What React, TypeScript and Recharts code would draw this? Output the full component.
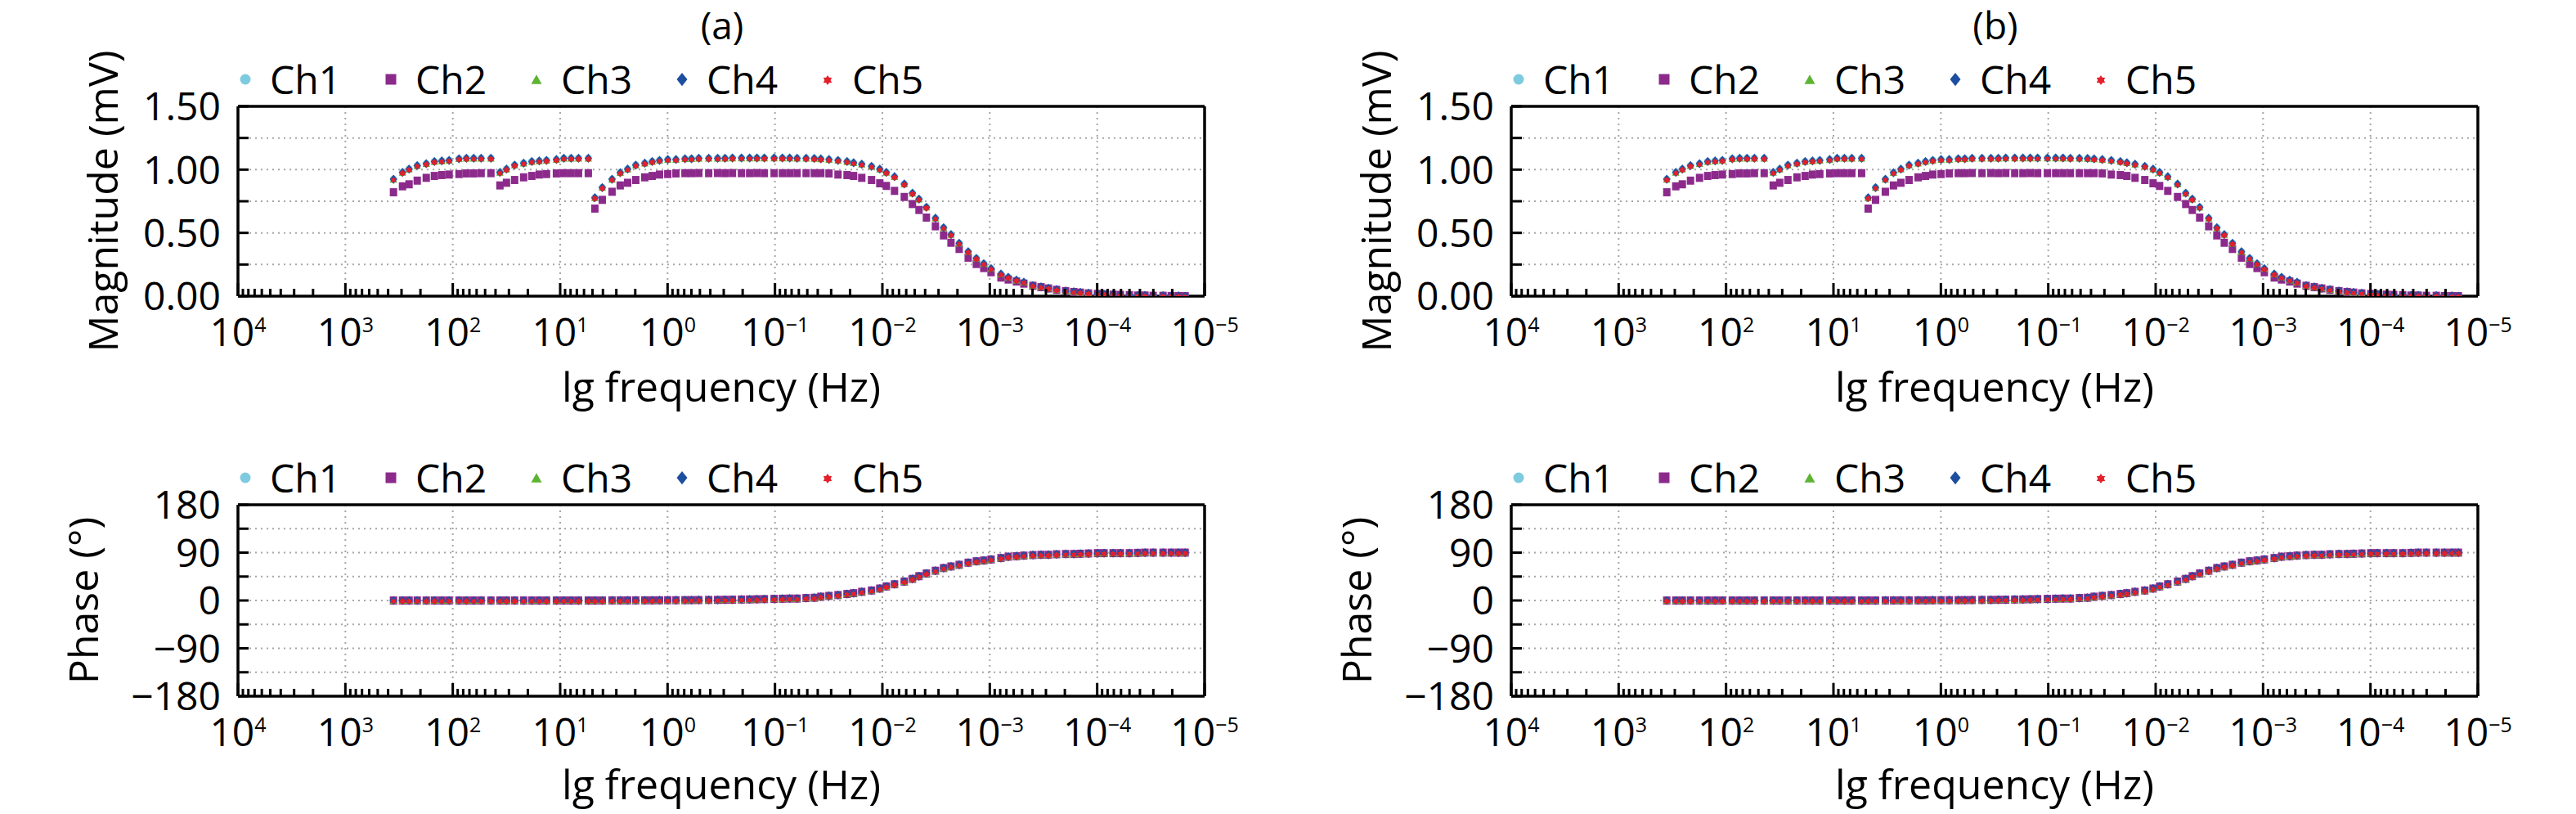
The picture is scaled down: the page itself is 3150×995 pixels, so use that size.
import React from "react";
import { CartesianGrid, Legend, ReferenceLine, Scatter, ScatterChart, XAxis, YAxis } from "recharts";

// lg(frequency / Hz) of the sweep; the instrument switches range twice, so the magnitude jumps
const lgFreqR1 = [2.552, 2.468, 2.407, 2.331, 2.247, 2.171, 2.102, 2.034, 1.942, 1.873, 1.805, 1.736, 1.645];
const lgFreqR2 = [1.561, 1.5, 1.424, 1.34, 1.264, 1.195, 1.127, 1.035, 0.966, 0.898, 0.829, 0.738];
const lgFreqR3 = [
  0.677, 0.608, 0.517, 0.441, 0.372, 0.296, 0.212, 0.143, 0.075, -0.002,
  -0.078, -0.162, -0.223, -0.291, -0.383, -0.466, -0.535, -0.604, -0.688, -0.764,
  -0.832, -0.901, -0.992, -1.069, -1.137, -1.206, -1.29, -1.366, -1.427, -1.503,
  -1.587, -1.671, -1.732, -1.808, -1.899, -1.976, -2.037, -2.113, -2.204, -2.28,
  -2.341, -2.41, -2.494, -2.57, -2.639, -2.715, -2.799, -2.875, -2.944, -3.012,
  -3.104, -3.172, -3.248, -3.317, -3.401, -3.477, -3.546, -3.622, -3.706, -3.782,
  -3.843, -3.919, -4.003, -4.064, -4.148, -4.216, -4.3, -4.377, -4.445, -4.521,
  -4.613, -4.689, -4.758, -4.819,
];

// magnitude (mV); Ch3, Ch4 and Ch5 sit on top of Ch1 within a marker size
const magCh1R1 = [0.924, 0.978, 1.004, 1.032, 1.047, 1.064, 1.069, 1.073, 1.086, 1.09, 1.09, 1.09, 1.09];
const magCh1R2 = [0.978, 1.004, 1.036, 1.051, 1.064, 1.069, 1.073, 1.08, 1.09, 1.09, 1.09, 1.09];
const magCh1R3 = [
  0.778, 0.858, 0.924, 0.976, 1.004, 1.036, 1.051, 1.064, 1.073, 1.08,
  1.08, 1.086, 1.086, 1.09, 1.09, 1.09, 1.09, 1.092, 1.092, 1.092,
  1.092, 1.092, 1.092, 1.092, 1.092, 1.09, 1.09, 1.088, 1.085, 1.08,
  1.073, 1.064, 1.054, 1.043, 1.026, 1.004, 0.978, 0.944, 0.886, 0.814,
  0.767, 0.703, 0.616, 0.541, 0.487, 0.418, 0.351, 0.299, 0.257, 0.218,
  0.175, 0.149, 0.127, 0.11, 0.084, 0.073, 0.063, 0.052, 0.041, 0.034,
  0.03, 0.024, 0.019, 0.015, 0.013, 0.011, 0.009, 0.006, 0.006, 0.004,
  0.004, 0.002, 0.002, 0,
];
const magCh2R1 = [0.821, 0.868, 0.884, 0.913, 0.935, 0.95, 0.957, 0.961, 0.965, 0.97, 0.97, 0.972, 0.972];
const magCh2R2 = [0.875, 0.896, 0.918, 0.939, 0.95, 0.961, 0.965, 0.97, 0.972, 0.972, 0.972, 0.972];
const magCh2R3 = [
  0.692, 0.761, 0.825, 0.875, 0.896, 0.918, 0.939, 0.95, 0.961, 0.965,
  0.97, 0.972, 0.972, 0.973, 0.972, 0.973, 0.972, 0.973, 0.972, 0.972,
  0.973, 0.972, 0.972, 0.972, 0.972, 0.972, 0.972, 0.972, 0.972, 0.97,
  0.961, 0.957, 0.95, 0.935, 0.918, 0.892, 0.871, 0.832, 0.784, 0.728,
  0.681, 0.621, 0.552, 0.48, 0.422, 0.373, 0.304, 0.254, 0.222, 0.189,
  0.147, 0.131, 0.116, 0.099, 0.082, 0.071, 0.061, 0.05, 0.04, 0.033,
  0.028, 0.022, 0.018, 0.014, 0.012, 0.01, 0.008, 0.005, 0.005, 0.003,
  0.003, 0.001, 0.001, 0,
];

// phase (deg), identical for all five channels at this scale
const phaseR1 = [0, 0, 0, 0, 0, 0, 0, 0, 0, 0, 0, 0, 0];
const phaseR2 = [0, 0, 0, 0, 0, 0, 0, 0, 0, 0, 0, 0];
const phaseR3 = [
  0, 0, 0.1, 0.1, 0.2, 0.2, 0.3, 0.3, 0.4, 0.5,
  0.5, 0.6, 0.7, 0.8, 1.0, 1.1, 1.3, 1.5, 1.8, 2.0,
  2.3, 2.6, 3.0, 3.3, 3.6, 3.6, 4.6, 5.1, 7.1, 8.6,
  10.2, 12.2, 13.7, 16.3, 18.8, 22.4, 26.4, 30.5, 35.6, 40.6,
  45.7, 50.8, 55.9, 61.0, 64.0, 67.1, 71.1, 73.7, 75.2, 77.2,
  79.8, 82.3, 83.3, 84.4, 85.4, 85.9, 85.9, 86.9, 87.4, 87.4,
  87.9, 88.4, 89.0, 89.0, 89.0, 89.0, 89.0, 89.5, 90.0, 90.0,
  90.0, 90.0, 90.0, 90.0,
];

const channels = ["Ch1", "Ch2", "Ch3", "Ch4", "Ch5"];
const xMajorTicks = [4, 3, 2, 1, 0, -1, -2, -3, -4, -5];
const minorSteps = [2, 3, 4, 5, 6, 7, 8, 9];
const magTicks = [0, 0.25, 0.5, 0.75, 1, 1.25, 1.5];
const phaseTicks = [-180, -135, -90, -45, 0, 45, 90, 135, 180];
const panelTitles = ["(a)", "(b)"];

const lgFreq = [...lgFreqR1, ...lgFreqR2, ...lgFreqR3];
const magCh1 = [...magCh1R1, ...magCh1R2, ...magCh1R3];
const magCh2 = [...magCh2R1, ...magCh2R2, ...magCh2R3];
const phase = [...phaseR1, ...phaseR2, ...phaseR3];
const magSeries = [magCh1, magCh2, magCh1, magCh1, magCh1];
const phaseSeries = [phase, phase, phase, phase, phase];

const xMinorTicks = xMajorTicks.slice(1).flatMap((n) => minorSteps.map((k) => n + Math.log10(k)));
const xTicks = [...xMajorTicks, ...xMinorTicks];

const channelStyle = [
  { color: "#7ecbe0", kind: "circle" },
  { color: "#8c2a8c", kind: "square" },
  { color: "#5db433", kind: "triangle" },
  { color: "#1d4e9f", kind: "diamond" },
  { color: "#e3202b", kind: "star" },
];

const axisStroke = { stroke: "#000", strokeWidth: 3.5 };
const minus = "\u2212";

function Marker({ kind, cx, cy, color, big }: any) {
  const s = big ? 13 : 9;
  if (kind === "circle") return <circle cx={cx} cy={cy} r={s / 2} fill={color} />;
  if (kind === "square") {
    const h = big ? s : s * 1.1;
    return <rect x={cx - s / 2} y={cy - h / 2} width={s} height={h} fill={color} />;
  }
  if (kind === "triangle") {
    const h = s * 0.9;
    return <polygon points={`${cx},${cy - h / 2} ${cx + s / 2},${cy + h / 2} ${cx - s / 2},${cy + h / 2}`} fill={color} />;
  }
  if (kind === "diamond") {
    const h = s * 1.25;
    return <polygon points={`${cx},${cy - h / 2} ${cx + s / 2},${cy} ${cx},${cy + h / 2} ${cx - s / 2},${cy}`} fill={color} />;
  }
  const ro = s * 0.46;
  const ri = ro * 0.62;
  const pts = [];
  for (let i = 0; i < 12; i++) {
    const a = (Math.PI / 6) * i - Math.PI / 2;
    const r = i % 2 ? ri : ro;
    pts.push(`${cx + r * Math.cos(a)},${cy + 1 + r * Math.sin(a)}`);
  }
  return <polygon points={pts.join(" ")} fill={color} />;
}

function FreqTick({ x, y, payload }: any) {
  const v = payload.value;
  const major = Number.isInteger(v);
  const sup = v < 0 ? minus + Math.abs(v) : String(v);
  return (
    <g>
      <line x1={x} x2={x} y1={y} y2={y - (major ? 16 : 9)} stroke="#000" strokeWidth={3} />
      {major && (
        <text x={x} y={y + 61} textAnchor="middle" fontSize={48} fill="#000">
          <tspan>10</tspan>
          <tspan fontSize={25} dy={-17}>
            {sup}
          </tspan>
        </text>
      )}
    </g>
  );
}

function ValueTick({ x, y, payload, labelEvery, format }: any) {
  const v = payload.value;
  const labelled = Math.abs(v / labelEvery - Math.round(v / labelEvery)) < 1e-9;
  return (
    <g>
      <line x1={x} x2={x + 13} y1={y} y2={y} stroke="#000" strokeWidth={3} />
      {labelled && (
        <text x={x - 21} y={y} dy="0.36em" textAnchor="end" fontSize={48} fill="#000">
          {format(v)}
        </text>
      )}
    </g>
  );
}

function YTitle({ viewBox, text, cx }: any) {
  const x = viewBox.x + cx;
  const y = viewBox.y + viewBox.height / 2;
  return (
    <text x={x} y={y} dy="0.36em" transform={`rotate(-90 ${x} ${y})`} textAnchor="middle" fontSize={50} fill="#000">
      {text}
    </text>
  );
}

function XTitle({ viewBox, dy }: any) {
  return (
    <text x={viewBox.x + viewBox.width / 2} y={viewBox.y + dy} dy="0.36em" textAnchor="middle" fontSize={50} fill="#000">
      lg frequency (Hz)
    </text>
  );
}

function ChannelLegend() {
  return (
    <div style={{ display: "flex", alignItems: "center", height: 60, fontSize: 48, lineHeight: "60px", color: "#000" }}>
      {channels.map((name, i) => (
        <div key={name} style={{ display: "flex", alignItems: "center", width: 178 }}>
          <svg width={20} height={20} style={{ marginRight: 20 }}>
            <Marker kind={channelStyle[i].kind} color={channelStyle[i].color} cx={10} cy={10} big />
          </svg>
          <span>{name}</span>
        </div>
      ))}
    </div>
  );
}

type PanelProps = {
  left: number;
  top: number;
  height: number;
  plotTop: number;
  axisHeight: number;
  legendTop: number;
  xTitleDy: number;
  yDomain: [number, number];
  yTicks: number[];
  labelEvery: number;
  format: (v: number) => string;
  yTitle: string;
  yTitleX: number;
  series: number[][];
};

function Panel(p: PanelProps) {
  return (
    <div style={{ position: "absolute", left: p.left, top: p.top }}>
      <ScatterChart width={1557} height={p.height} margin={{ top: p.plotTop, right: 84, bottom: 0, left: 0 }}>
        <CartesianGrid
          xAxisId="f"
          yAxisId="v"
          verticalValues={xMajorTicks}
          horizontalValues={p.yTicks}
          stroke="#a6a6a6"
          strokeWidth={2}
          strokeDasharray="2 5"
        />
        <XAxis
          xAxisId="f"
          type="number"
          dataKey="x"
          domain={[-5, 4]}
          reversed
          allowDataOverflow
          ticks={xTicks}
          interval={0}
          tickSize={0}
          tickMargin={0}
          tickLine={false}
          axisLine={axisStroke}
          height={p.axisHeight}
          tick={(t: any) => <FreqTick {...t} />}
          label={(l: any) => <XTitle viewBox={l.viewBox} dy={p.xTitleDy} />}
        />
        <YAxis
          yAxisId="v"
          type="number"
          dataKey="y"
          domain={p.yDomain}
          allowDataOverflow
          ticks={p.yTicks}
          interval={0}
          tickSize={0}
          tickMargin={0}
          tickLine={false}
          axisLine={axisStroke}
          width={291}
          tick={(t: any) => <ValueTick {...t} labelEvery={p.labelEvery} format={p.format} />}
          label={(l: any) => <YTitle viewBox={l.viewBox} text={p.yTitle} cx={p.yTitleX} />}
        />
        <ReferenceLine xAxisId="f" yAxisId="v" y={p.yDomain[1]} stroke="#000" strokeWidth={3.5} />
        <ReferenceLine xAxisId="f" yAxisId="v" x={-5} stroke="#000" strokeWidth={3.5} />
        <Legend
          layout="horizontal"
          verticalAlign="middle"
          align="center"
          wrapperStyle={{ top: p.legendTop, left: 290, width: 1000, height: 60 }}
          content={() => <ChannelLegend />}
        />
        {channels.map((name, i) => (
          <Scatter
            key={name}
            name={name}
            xAxisId="f"
            yAxisId="v"
            data={lgFreq.map((x, j) => ({ x, y: p.series[i][j] }))}
            isAnimationActive={false}
            shape={(s: any) => <Marker kind={channelStyle[i].kind} color={channelStyle[i].color} cx={s.cx} cy={s.cy} />}
          />
        ))}
      </ScatterChart>
    </div>
  );
}

const formatMag = (v: number) => v.toFixed(2);
const formatPhase = (v: number) => (v < 0 ? minus + Math.abs(v) : String(v));

export default function App() {
  return (
    <div
      style={{
        position: "absolute",
        left: 0,
        top: 0,
        width: 3150,
        height: 995,
        overflow: "hidden",
        background: "#fff",
        fontFamily: "'Open Sans', sans-serif",
        color: "#000",
      }}
    >
      <style>{".recharts-surface { overflow: visible; }"}</style>
      {panelTitles.map((title, k) => (
        <React.Fragment key={title}>
          <div
            style={{
              position: "absolute",
              left: 783 + k * 1557,
              top: 0,
              width: 200,
              height: 60,
              lineHeight: "60px",
              textAlign: "center",
              fontSize: 46,
            }}
          >
            {title}
          </div>
          <Panel
            left={k * 1557}
            top={0}
            height={497}
            plotTop={130}
            axisHeight={135}
            legendTop={67}
            xTitleDy={111}
            yDomain={[0, 1.5]}
            yTicks={magTicks}
            labelEvery={0.5}
            format={formatMag}
            yTitle="Magnitude (mV)"
            yTitleX={126}
            series={magSeries}
          />
          <Panel
            left={k * 1557}
            top={497}
            height={498}
            plotTop={120}
            axisHeight={144}
            legendTop={57}
            xTitleDy={108}
            yDomain={[-180, 180]}
            yTicks={phaseTicks}
            labelEvery={90}
            format={formatPhase}
            yTitle="Phase (°)"
            yTitleX={102}
            series={phaseSeries}
          />
        </React.Fragment>
      ))}
    </div>
  );
}
